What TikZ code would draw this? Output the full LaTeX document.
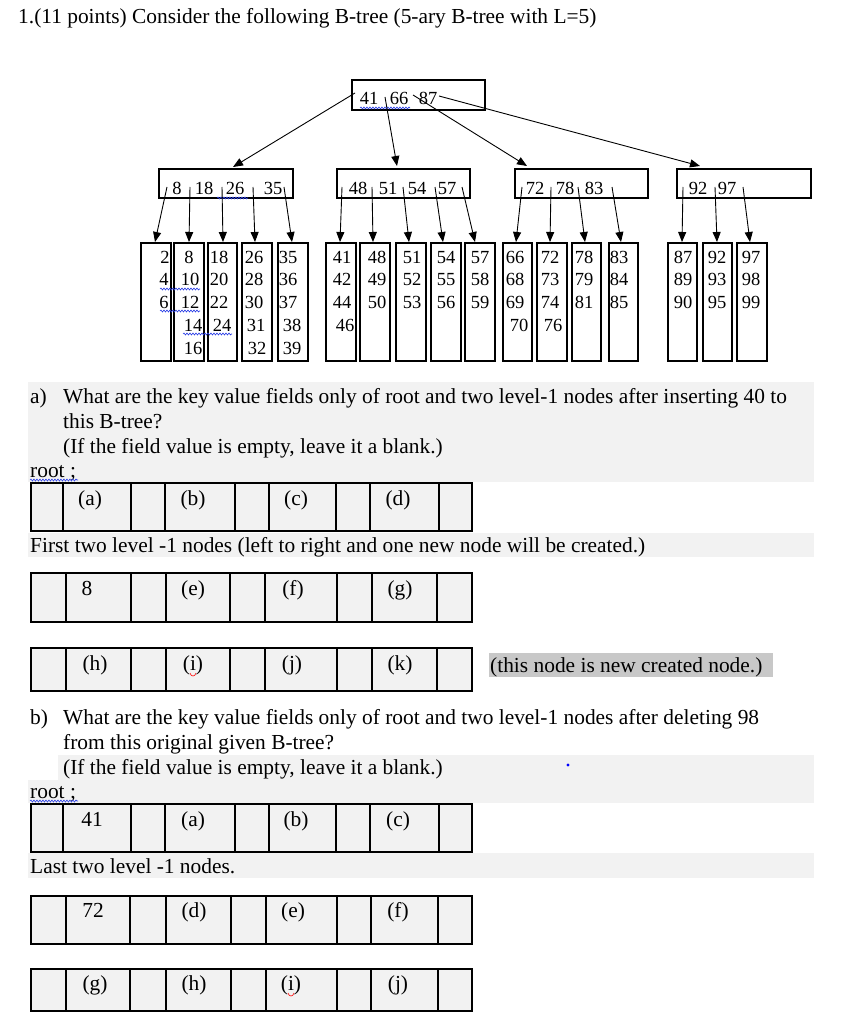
\documentclass[tikz,border=0pt]{standalone}
\usepackage{fontspec}
\setmainfont{Liberation Serif}
\usetikzlibrary{arrows.meta,decorations.pathmorphing}
\definecolor{panel}{RGB}{242,242,242}
\definecolor{hilite}{RGB}{200,200,200}
\definecolor{wavy}{RGB}{40,60,230}
\newcommand\AnsTable[4]{%
  \node[draw, line width=1.1pt, fill=panel, inner sep=0pt, outer sep=0pt,
        minimum width=441pt, minimum height={#3-#2}] (#1) at (251.5,{(#2+#3)/2}) {};
  \foreach \c in {#4} {\draw[line width=1.1pt] (\c,#2) -- (\c,#3);}
  \draw[line width=1.6pt] (#1.north west) -- (#1.north east) (#1.south west) -- (#1.south east);
}
\newcommand\Leaf[3]{% name, x1, x2
  \node[draw, line width=1.1pt, inner sep=0pt, outer sep=0pt,
        minimum width={#3-#2}, minimum height=118pt] (#1) at ({(#2+#3)/2},302) {};
}
\begin{document}
\begin{tikzpicture}[x=1pt,y=-1pt,
  txt/.style={anchor=base west, inner sep=0pt, font=\fontsize{21.4}{25}\selectfont},
  lbl/.style={anchor=base, inner sep=0pt, font=\fontsize{21.4}{25}\selectfont},
  num/.style={anchor=base, inner sep=0pt, font=\fontsize{18.5}{20}\selectfont},
  box/.style={draw, line width=1.1pt, inner sep=0pt, outer sep=0pt},
  ptr/.style={line width=0.9pt, -{Triangle[length=10pt,width=8pt]}},
  squig/.style={draw=wavy, line width=0.6pt, decorate, decoration={snake, amplitude=1pt, segment length=3pt}},
]
\useasboundingbox (0,0) rectangle (863,1024);
\fill[white] (0,0) rectangle (863,1024);

% title
\node[txt] (title) at (18,24) {1.(11 points) Consider the following B-tree (5-ary B-tree with L=5)};

% ---------- tree ----------
\node[box, minimum width=133pt, minimum height=30pt] (root) at (418.5,95) {};
\node[num] (rk1) at (369,105) {41};
\node[num] (rk2) at (399,105) {66};
\node[num] (rk3) at (428,105) {87};
\draw[squig] (360,108) -- (410,108);

\node[box, minimum width=134pt, minimum height=29pt] (B1) at (226,183.5) {};
\node[box, minimum width=133pt, minimum height=29pt] (B2) at (403.5,183.5) {};
\node[box, minimum width=133pt, minimum height=29pt] (B3) at (581.5,183.5) {};
\node[box, minimum width=134pt, minimum height=29pt] (B4) at (744,183.5) {};

\foreach \t/\x in {8/177,18/204,26/235,35/273,48/358,51/388,54/417,57/447,72/535,78/565,83/594,92/698,97/727}
  \node[num] (k\t) at (\x,195) {\t};
\draw[squig] (217,198) -- (248,198);

% root pointers
\coordinate (rs1) at (355,93);  \coordinate (rt1) at (233,167);
\coordinate (rs2) at (385,97);  \coordinate (rt2) at (397,166);
\coordinate (rs3) at (413,95);  \coordinate (rt3) at (527,166);
\coordinate (rs4) at (439,96);  \coordinate (rt4) at (700,166);
\foreach \i in {1,...,4} \draw[ptr] (rs\i) -- (rt\i);

% leaves
\Leaf{L1}{141}{171}
\Leaf{L2}{174}{204}
\Leaf{L3}{208}{237}
\Leaf{L4}{242}{272}
\Leaf{L5}{278}{308}
\Leaf{L6}{326}{356}
\Leaf{L7}{360}{390}
\Leaf{L8}{396}{426}
\Leaf{L9}{431}{461}
\Leaf{L10}{465}{495}
\Leaf{L11}{503}{532}
\Leaf{L12}{537}{567}
\Leaf{L13}{572}{601}
\Leaf{L14}{609}{638}
\Leaf{L15}{668}{697}
\Leaf{L16}{703}{732}
\Leaf{L17}{737}{767}

% leaf pointers: start x / tip x
\foreach \n/\s/\t in {1/167/155,2/190/189,3/222/223,4/253/255,5/284/292,
  6/342/340,7/372/373,8/403/409,9/435/443,10/462/475,
  11/522/516,12/551/550,13/578/585,14/612/621,
  15/683/682,16/715/717,17/743/750}{
  \coordinate (ps\n) at (\s,187);
  \coordinate (pt\n) at (\t,242);
  \draw[ptr] (ps\n) -- (pt\n);
}

% leaf keys: x / row / text
\foreach \x/\r/\t in {
  165/1/2,164/2/4,164/3/6,
  189/1/8,190/2/10,190/3/12,193/4/14,193/5/16,
  219/1/18,219/2/20,219/3/22,222/4/24,
  254/1/26,254/2/28,254/3/30,256/4/31,257/5/32,
  288/1/35,288/2/36,288/3/37,292/4/38,292/5/39,
  342/1/41,342/2/42,342/3/44,345/4/46,
  377/1/48,377/2/49,377/3/50,
  412/1/51,412/2/52,412/3/53,
  446/1/54,446/2/55,446/3/56,
  480/1/57,480/2/58,480/3/59,
  515/1/66,515/2/68,515/3/69,519/4/70,
  550/1/72,550/2/73,550/3/74,553/4/76,
  584/1/78,584/2/79,584/3/81,
  619/1/83,619/2/84,619/3/85,
  683/1/87,683/2/89,683/3/90,
  717/1/92,717/2/93,717/3/95,
  751/1/97,751/2/98,751/3/99}
  \node[num] at (\x,{240.5+22.7*\r}) {\t};
\draw[squig] (160,289) -- (200,289);
\draw[squig] (160,311) -- (200,311);
\draw[squig] (183,334) -- (232,334);

% ---------- part a ----------
\fill[panel] (28,382) rectangle (814,482);
\fill[panel] (28,533) rectangle (814,557);
\node[txt] (pa) at (30,403) {a)};
\node[txt] (qa1) at (63,403) {What are the key value fields only of root and two level-1 nodes after inserting 40 to};
\node[txt] (qa2) at (63,428) {this B-tree?};
\node[txt] (qa3) at (63,453) {(If the field value is empty, leave it a blank.)};
\node[txt] (ra) at (30,477) {root ;};
\draw[squig] (30,480) -- (78,480);

\AnsTable{TA1}{483}{531}{63,131,165,235,269,336,370,439}
\node[lbl] at (90,505) {(a)};
\node[lbl] at (193,505) {(b)};
\node[lbl] at (296,505) {(c)};
\node[lbl] at (398,505) {(d)};

\node[txt] (fa) at (30,552) {First two level -1 nodes (left to right and one new node will be created.)};

\AnsTable{TA2}{573}{622}{66,131,166,230,265,337,372,437}
\node[lbl] at (87,595) {8};
\node[lbl] at (193,595) {(e)};
\node[lbl] at (293,595) {(f)};
\node[lbl] at (400,595) {(g)};

\AnsTable{TA3}{648}{691}{66,131,166,230,265,337,372,437}
\node[lbl] at (95,670) {(h)};
\node[lbl] at (193,670) {(i)};
\node[lbl] at (292,670) {(j)};
\node[lbl] at (400,670) {(k)};
\draw[red, line width=0.6pt] (190,673) .. controls (191,677) and (195,677) .. (196,673);

\fill[hilite] (489,653) rectangle (773,677);
\node[txt] (nn) at (490,672) {(this node is new created node.)};

% ---------- part b ----------
\fill[panel] (58,755) rectangle (814,780);
\fill[panel] (28,780) rectangle (814,803);
\fill[panel] (28,853) rectangle (814,878);
\node[txt] (pb) at (30,724) {b)};
\node[txt] (qb1) at (63,724) {What are the key value fields only of root and two level-1 nodes after deleting 98};
\node[txt] (qb2) at (63,749) {from this original given B-tree?};
\node[txt] (qb3) at (63,774) {(If the field value is empty, leave it a blank.)};
\node[txt] (rb) at (30,798) {root ;};
\draw[squig] (30,801) -- (78,801);
\fill[blue] (568,765) circle (1.6);

\AnsTable{TB1}{804}{852}{63,131,165,235,269,336,370,439}
\node[lbl] at (92,826) {41};
\node[lbl] at (193,826) {(a)};
\node[lbl] at (296,826) {(b)};
\node[lbl] at (398,826) {(c)};

\node[txt] (lb) at (30,873) {Last two level -1 nodes.};

\AnsTable{TB2}{896}{944}{66,130,166,231,266,337,371,438}
\node[lbl] at (93,917) {72};
\node[lbl] at (194,917) {(d)};
\node[lbl] at (293,917) {(e)};
\node[lbl] at (398,917) {(f)};

\AnsTable{TB3}{969}{1011}{66,130,166,231,266,337,371,438}
\node[lbl] at (95,990) {(g)};
\node[lbl] at (194,990) {(h)};
\node[lbl] at (291,990) {(i)};
\node[lbl] at (398,990) {(j)};
\draw[red, line width=0.6pt] (288,993) .. controls (289,997) and (293,997) .. (294,993);
\end{tikzpicture}
\end{document}
